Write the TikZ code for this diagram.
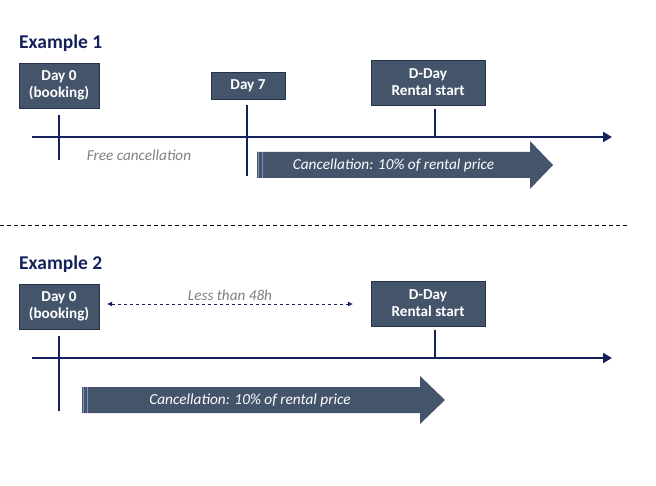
\documentclass[tikz,border=0pt]{standalone}
\usepackage{fontspec}
\setmainfont{Carlito}
\usepackage{tikz}
\usetikzlibrary{arrows.meta,positioning,calc}
\definecolor{ardoise}{HTML}{44546A}
\definecolor{marine}{HTML}{14215C}
\definecolor{bordC}{HTML}{26324A}
\definecolor{grisT}{HTML}{7F7F7F}
\definecolor{rayure}{HTML}{7F92C6}
\tikzset{
  daybox/.style={rectangle, draw=bordC, line width=0.8pt, fill=ardoise, text=white, inner sep=0pt,
                 align=center, font=\fontsize{15.2}{17}\selectfont\bfseries},
  titre/.style={anchor=west, inner sep=0pt, text=marine, font=\fontsize{19.5}{22}\selectfont\bfseries},
  axe/.style={-{Triangle[length=9pt,width=10pt]}, line width=2.4pt, draw=marine},
  repere/.style={line width=2pt, draw=marine},
  note/.style={text=grisT, font=\fontsize{15.2}{17}\selectfont\itshape},
  fleche/.style={fill=ardoise},
  bord/.style={draw=rayure, line width=1.1pt},
  cancel/.style={text=white, font=\fontsize{15.3}{17}\selectfont\itshape},
  delai/.style={{Latex[length=5pt,width=5pt]}-{Latex[length=5pt,width=5pt]}, dashed, line width=0.8pt, draw=marine},
}

\begin{document}
\begin{tikzpicture}[x=1pt, y=-1pt]
        \useasboundingbox (0,0) rectangle (656,486);
        % example 1
        \node[titre] (ttlA) at (19,43) {Example 1};
        \node[daybox, minimum width=80pt, minimum height=45pt] (dayA) at (59,85.5) {Day 0\\(booking)};
        \node[daybox, minimum width=74pt, minimum height=27pt] (sevenA) at (248,85.5) {Day 7};
        \node[daybox, minimum width=114pt, minimum height=45pt] (ddayA) at (428,82.5) {D-Day\\Rental start};
        \coordinate (axeA0) at (32,137);
        \coordinate (axeA1) at (612,137);
        \draw[axe] (axeA0) -- (axeA1);
        \draw[repere] (59,115) -- (59,160);
        \draw[repere] (247,105) -- (247,176);
        \draw[repere] (435,109) -- (435,137);
        \node[note] (freeA) at (139,155) {Free cancellation};
        \fill[fleche] (257,152) -- (530,152) -- (530,141) -- (553,165) -- (530,189) -- (530,178) -- (257,178) -- cycle;
        \draw[bord] (258.8,152) -- (258.8,178);
        \draw[bord] (262.2,152) -- (262.2,178);
        \node[cancel] (cancelA) at (393.5,165) {Cancellation: 10\% of rental price};
        % separator
        \draw[dashed, line width=1pt, dash pattern=on 4pt off 3pt] (0,226) -- (628,226);
        % example 2
        \node[titre] (ttlB) at (19,264) {Example 2};
        \node[daybox, minimum width=80pt, minimum height=45pt] (dayB) at (59,306.5) {Day 0\\(booking)};
        \node[daybox, minimum width=114pt, minimum height=45pt] (ddayB) at (428,303.5) {D-Day\\Rental start};
        \coordinate (axeB0) at (32,358);
        \coordinate (axeB1) at (612,358);
        \draw[axe] (axeB0) -- (axeB1);
        \draw[repere] (59,336) -- (59,411);
        \draw[repere] (435,330) -- (435,358);
        \coordinate (delai0) at (107,304);
        \coordinate (delai1) at (353,304);
        \draw[delai] (delai0) -- (delai1);
        \node[note] (lessB) at (230,295) {Less than 48h};
        \fill[fleche] (82,387) -- (420,387) -- (420,376) -- (445,400) -- (420,424) -- (420,413) -- (82,413) -- cycle;
        \draw[bord] (83.8,387) -- (83.8,413);
        \draw[bord] (87.2,387) -- (87.2,413);
        \node[cancel] (cancelB) at (250,400) {Cancellation: 10\% of rental price};
      \end{tikzpicture}
\end{document}
